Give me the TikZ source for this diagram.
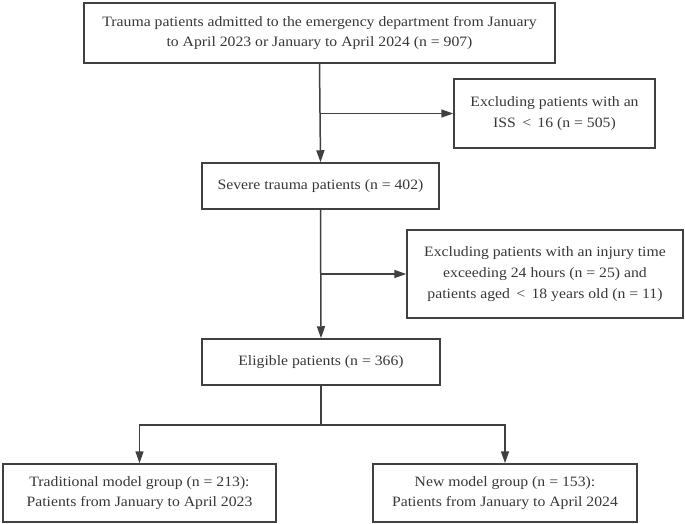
\documentclass[tikz,border=0pt]{standalone}
\usepackage{fontspec}
\setmainfont{Liberation Serif}[FakeStretch=1.1]
\usetikzlibrary{arrows.meta,calc}

\definecolor{inkgray}{HTML}{404040}
\definecolor{textgray}{HTML}{383838}

\tikzset{
  box/.style={draw=inkgray, line width=1.5pt, fill=white, align=center, inner sep=0pt,
              text=textgray, font=\fontsize{14.3}{20.8}\selectfont},
  flow/.style={draw=inkgray, line width=1.5pt, -{Triangle[length=12pt, width=8pt]}},
  link/.style={draw=inkgray, line width=1.5pt}
}

\begin{document}
\begin{tikzpicture}[x=1pt, y=-1pt, line join=miter]

  %% ==== main column ====
  \node[box, minimum width=471pt, minimum height=60pt] (admit) at (319.5,33.0)
    {Trauma patients admitted to the emergency department from January\\
     to April 2023 or January to April 2024 (n = 907)};
  \node[box, minimum width=237pt, minimum height=46pt] (severe) at (320.5,186.0)
    {Severe trauma patients (n = 402)};
  \node[box, minimum width=238pt, minimum height=46pt] (eligible) at (321.0,362.0)
    {Eligible patients (n = 366)};

  %% ==== exclusions ====
  \node[box, minimum width=201pt, minimum height=69pt] (exclISS) at (554.5,113.5)
    {Excluding patients with an\\ ISS \,<\, 16 (n = 505)};
  \node[box, minimum width=276pt, minimum height=88pt] (exclTime) at (545.0,274.0)
    {Excluding patients with an injury time\\
     exceeding 24 hours (n = 25) and\\
     patients aged \,<\, 18 years old (n = 11)};

  %% ==== groups ====
  \node[box, minimum width=273pt, minimum height=58pt] (trad) at (139.5,493.0)
    {Traditional model group (n = 213):\\ Patients from January to April 2023};
  \node[box, minimum width=264pt, minimum height=58pt] (newgrp) at (505.0,493.0)
    {New model group (n = 153):\\ Patients from January to April 2024};

  %% ==== connectors ====
  \coordinate (splitISS) at (admit.south |- exclISS.west);
  \coordinate (splitTime) at (severe.south |- exclTime.west);
  \coordinate (fork) at ($(eligible.south)+(0,39)$);

  \draw[flow] (admit.south) -- (severe.north);
  \draw[flow] (splitISS) -- (exclISS.west);
  \draw[flow] (severe.south) -- (eligible.north);
  \draw[flow] (splitTime) -- (exclTime.west);
  \draw[link] (eligible.south) -- (fork);
  \draw[flow] (fork) -| (trad.north);
  \draw[flow] (fork) -| (newgrp.north);

  \useasboundingbox (0,0) rectangle (685,524);
\end{tikzpicture}
\end{document}
